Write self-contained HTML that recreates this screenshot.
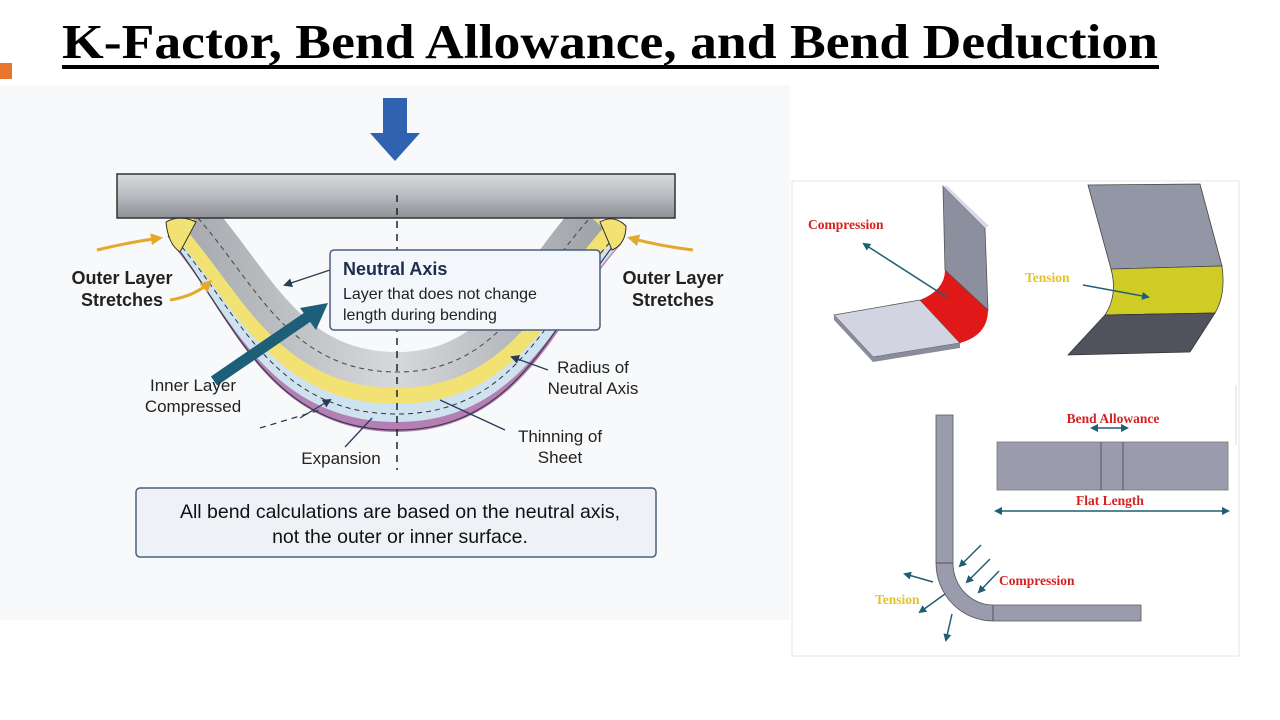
<!DOCTYPE html>
<html><head><meta charset="utf-8"><style>
html,body{margin:0;padding:0;background:#fff;width:1280px;height:720px;overflow:hidden}
svg{display:block}
</style></head><body>
<svg width="1280" height="720" viewBox="0 0 1280 720" xmlns="http://www.w3.org/2000/svg">
<defs>
<linearGradient id="bar" x1="0" y1="0" x2="0" y2="1"><stop offset="0" stop-color="#d9dbde"/><stop offset="0.5" stop-color="#b8bbc0"/><stop offset="1" stop-color="#8d9096"/></linearGradient>
<linearGradient id="steel" x1="0" y1="0" x2="1" y2="0"><stop offset="0" stop-color="#a9acb0"/><stop offset="0.5" stop-color="#d6d8db"/><stop offset="1" stop-color="#a2a5aa"/></linearGradient>
<marker id="ah" markerWidth="8" markerHeight="8" refX="6" refY="4" orient="auto" markerUnits="userSpaceOnUse"><path d="M0,0 L8,4 L0,8 z" fill="#1f5f73"/></marker>
<marker id="ahs" markerWidth="8" markerHeight="8" refX="1" refY="4" orient="auto-start-reverse" markerUnits="userSpaceOnUse"><path d="M0,0 L8,4 L0,8 z" fill="#1f5f73"/></marker>
<marker id="nah" markerWidth="9" markerHeight="9" refX="7" refY="4.5" orient="auto" markerUnits="userSpaceOnUse"><path d="M0,0 L9,4.5 L0,9 z" fill="#2b3b5a"/></marker>
<marker id="yah" markerWidth="12" markerHeight="12" refX="9" refY="6" orient="auto" markerUnits="userSpaceOnUse"><path d="M0,0 L12,6 L0,12 z" fill="#e3a92a"/></marker>
</defs>
<rect x="0" y="63" width="12" height="16" fill="#e8762f"/>
<text x="62" y="58" font-family="Liberation Serif, serif" font-weight="bold" font-size="49" textLength="1096" lengthAdjust="spacingAndGlyphs" fill="#000">K-Factor, Bend Allowance, and Bend Deduction</text>
<rect x="62" y="65" width="1097" height="4" fill="#000"/>
<rect x="0" y="85" width="790" height="535" fill="#f8f9fa"/>
<polygon points="383,98 407,98 407,133 420,133 395,161 370,133 383,133" fill="#2f62b0"/>
<!-- sheet layers -->
<g fill="none" stroke-linecap="butt">
<path d="M185,232 C245,300 275,414 397,414 C515,414 545,300 608,232" stroke="#b57fb4" stroke-width="36"/>
<path d="M183,228 C243,296 275,404 397,404 C515,404 545,296 610,228" stroke="#cfe2ef" stroke-width="36"/>
<path d="M188,224 C248,290 280,386 397,386 C510,386 540,290 604,224" stroke="#f2e173" stroke-width="36"/>
<path d="M198,216 C256,282 290,370 397,370 C500,370 530,282 590,216" stroke="url(#steel)" stroke-width="36"/>
<path d="M198,218 C256,284 290,372 397,372 C500,372 530,284 590,218" stroke="#444" stroke-width="1" stroke-dasharray="5,4"/>
<path d="M176,240 C238,310 272,414 397,414 C518,414 548,310 612,240" stroke="#333" stroke-width="1" stroke-dasharray="5,4"/>
<path d="M168,236 C232,314 266,430 397,430 C524,430 556,314 624,232" stroke="#3a3a4a" stroke-width="1.2"/>
</g>
<path d="M166,222 Q180,214 196,222 L180,252 Q168,244 166,222 z" fill="#f2e173" stroke="#333"/>
<path d="M600,222 Q614,214 626,226 Q626,244 612,250 z" fill="#f2e173" stroke="#333"/>
<rect x="117" y="174" width="558" height="44" fill="url(#bar)" stroke="#333" stroke-width="1.5"/>
<line x1="397" y1="195" x2="397" y2="470" stroke="#222" stroke-width="1.5" stroke-dasharray="7,6"/>
<g fill="none" stroke="#e3a92a" stroke-width="3">
<path d="M97,250 Q130,242 160,238" marker-end="url(#yah)"/>
<path d="M170,300 Q195,296 210,282" marker-end="url(#yah)"/>
<path d="M693,250 Q660,246 630,238" marker-end="url(#yah)"/>
</g>
<g stroke="#2b3b5a" stroke-width="1.3" fill="none">
<line x1="330" y1="270" x2="285" y2="285" marker-end="url(#nah)"/>
<line x1="548" y1="370" x2="512" y2="357" marker-end="url(#nah)"/>
<line x1="260" y1="428" x2="320" y2="410" stroke-dasharray="6,5"/>
<line x1="300" y1="418" x2="330" y2="400" marker-end="url(#nah)"/>
<line x1="345" y1="447" x2="372" y2="418"/>
<line x1="505" y1="430" x2="440" y2="400"/>
</g>
<line x1="214" y1="381" x2="312" y2="314" stroke="#1d5e78" stroke-width="11"/>
<polygon points="328,303 300,308 316,330" fill="#1d5e78"/>
<rect x="330" y="250" width="270" height="80" rx="4" fill="#f3f6fa" stroke="#4b5e80" stroke-width="1.5"/>
<text x="343" y="275" font-family="Liberation Sans, sans-serif" font-weight="bold" font-size="18" fill="#1e2d4f">Neutral Axis</text>
<text x="343" y="299" font-family="Liberation Sans, sans-serif" font-size="16" fill="#222">Layer that does not change</text>
<text x="343" y="320" font-family="Liberation Sans, sans-serif" font-size="16" fill="#222">length during bending</text>
<g font-family="Liberation Sans, sans-serif" font-size="18" font-weight="bold" fill="#222" text-anchor="middle">
<text x="122" y="284">Outer Layer</text><text x="122" y="306">Stretches</text>
<text x="673" y="284">Outer Layer</text><text x="673" y="306">Stretches</text>
</g>
<g font-family="Liberation Sans, sans-serif" font-size="17" fill="#222" text-anchor="middle">
<text x="193" y="391">Inner Layer</text><text x="193" y="412">Compressed</text>
<text x="593" y="373">Radius of</text><text x="593" y="394">Neutral Axis</text>
<text x="560" y="442">Thinning of</text><text x="560" y="463">Sheet</text>
<text x="341" y="464">Expansion</text>
</g>
<rect x="136" y="488" width="520" height="69" rx="4" fill="#eef2f7" stroke="#4b5e80" stroke-width="1.5"/>
<g font-family="Liberation Sans, sans-serif" font-size="19.5" fill="#111" text-anchor="middle">
<text x="400" y="518">All bend calculations are based on the neutral axis,</text>
<text x="400" y="543">not the outer or inner surface.</text>
</g>
<rect x="792" y="181" width="447" height="475" fill="#fff" stroke="#e6e6e6"/>
<polygon points="834,315 920,300 960,343 873,357" fill="#d3d4e2" stroke="#555" stroke-width="0.8"/>
<polygon points="834,315 873,357 873,362 834,320" fill="#8a8c9c"/>
<polygon points="873,357 960,343 960,348 873,362" fill="#8a8c9c"/>
<path d="M920,300 Q945,290 945,270 L988,310 Q988,335 960,343 z" fill="#e01818"/>
<polygon points="943,186 985,228 988,310 945,270" fill="#8c8f9e" stroke="#555" stroke-width="0.8"/>
<polygon points="943,186 947,186 989,226 985,228" fill="#d8d9e6"/>
<line x1="948" y1="298" x2="864" y2="244" stroke="#1f5f73" stroke-width="1.5" marker-end="url(#ah)"/>
<text x="808" y="229" font-family="Liberation Serif, serif" font-weight="bold" font-size="13.5" fill="#d42222">Compression</text>
<polygon points="1088,185 1200,184 1222,266 1111,269" fill="#9396a4" stroke="#444" stroke-width="0.8"/>
<path d="M1111,269 L1222,266 Q1226,295 1215,313 L1105,315 Q1118,295 1111,269 z" fill="#cfcc25" stroke="#444" stroke-width="0.8"/>
<polygon points="1105,315 1215,313 1190,352 1068,355" fill="#50535e" stroke="#333" stroke-width="0.8"/>
<line x1="1083" y1="285" x2="1148" y2="297" stroke="#1f5f73" stroke-width="1.5" marker-end="url(#ah)"/>
<text x="1025" y="282" font-family="Liberation Serif, serif" font-weight="bold" font-size="13.5" fill="#e3c22a">Tension</text>
<rect x="1235" y="385" width="2" height="60" fill="#eee"/>
<path d="M936,415 L953,415 L953,563 A40,42 0 0 0 993,605 L1141,605 L1141,621 L993,621 A57,58 0 0 1 936,563 z" fill="#9a9cad" stroke="#555" stroke-width="0.8"/>
<line x1="936" y1="563" x2="953" y2="563" stroke="#555"/>
<line x1="993" y1="605" x2="993" y2="621" stroke="#555"/>
<rect x="997" y="442" width="231" height="48" fill="#9a9cad" stroke="#777" stroke-width="0.8"/>
<line x1="1101" y1="442" x2="1101" y2="490" stroke="#555"/>
<line x1="1123" y1="442" x2="1123" y2="490" stroke="#555"/>
<line x1="1097" y1="428" x2="1127" y2="428" stroke="#1f5f73" stroke-width="1.5" marker-start="url(#ahs)" marker-end="url(#ah)"/>
<line x1="1001" y1="511" x2="1228" y2="511" stroke="#1f5f73" stroke-width="1.5" marker-start="url(#ahs)" marker-end="url(#ah)"/>
<g font-family="Liberation Serif, serif" font-weight="bold" font-size="13.5" fill="#d42222" text-anchor="middle">
<text x="1113" y="423">Bend Allowance</text>
<text x="1110" y="505">Flat Length</text>
</g>
<text x="999" y="585" font-family="Liberation Serif, serif" font-weight="bold" font-size="13.5" fill="#d42222">Compression</text>
<text x="875" y="604" font-family="Liberation Serif, serif" font-weight="bold" font-size="13.5" fill="#e3c22a">Tension</text>
<g stroke="#1f5f73" stroke-width="1.5">
<line x1="981" y1="545" x2="960" y2="566" marker-end="url(#ah)"/>
<line x1="990" y1="559" x2="967" y2="582" marker-end="url(#ah)"/>
<line x1="999" y1="571" x2="979" y2="592" marker-end="url(#ah)"/>
<line x1="933" y1="582" x2="905" y2="574" marker-end="url(#ah)"/>
<line x1="945" y1="594" x2="920" y2="612" marker-end="url(#ah)"/>
<line x1="952" y1="614" x2="946" y2="640" marker-end="url(#ah)"/>
</g>
</svg>
</body></html>
